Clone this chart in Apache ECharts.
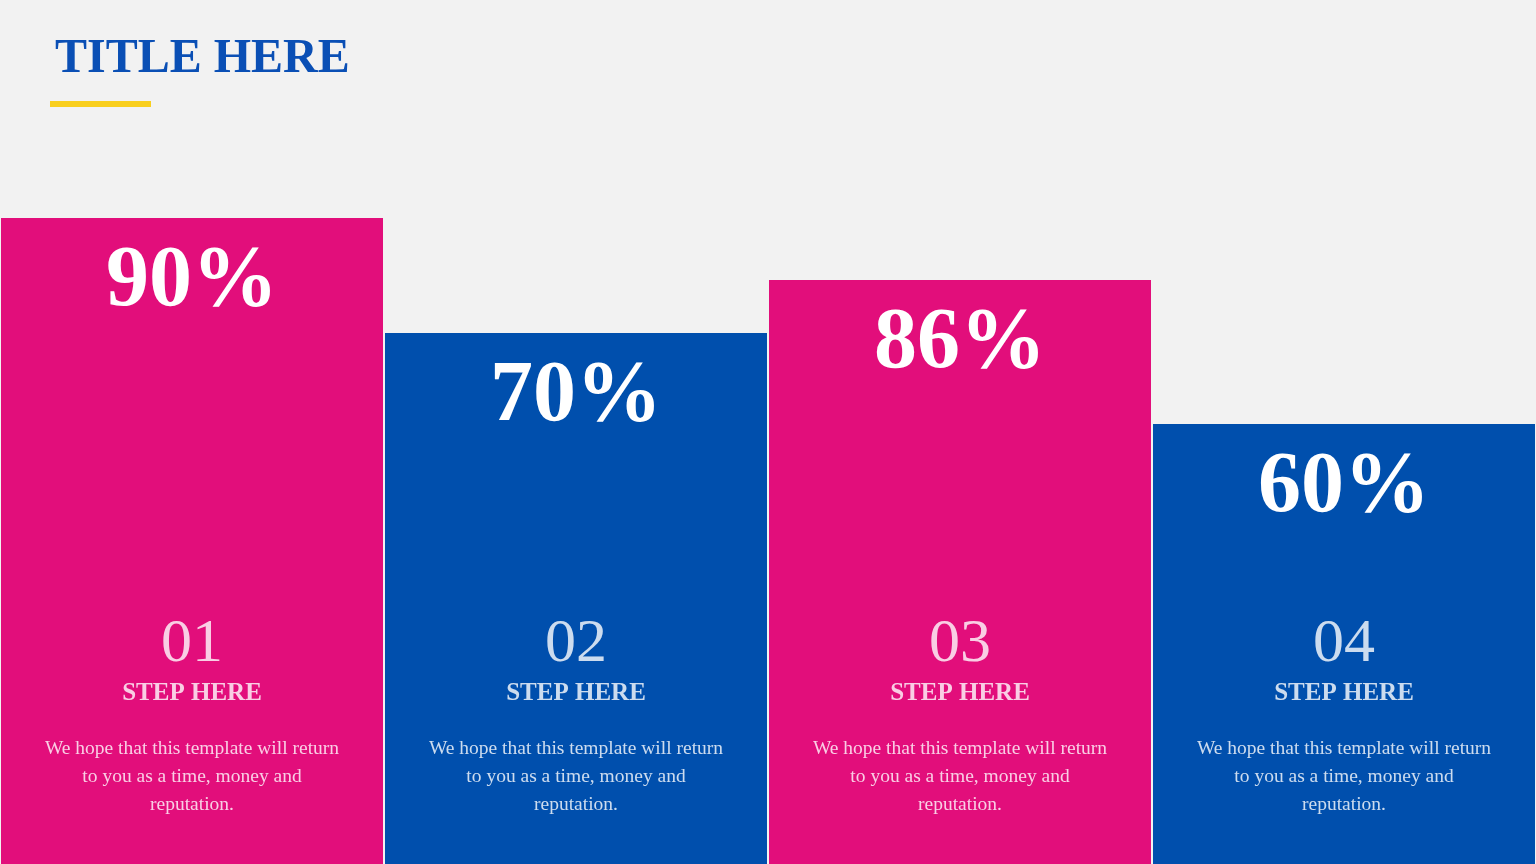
<!DOCTYPE html>
<html><head><meta charset="utf-8">
<script src="https://cdn.jsdelivr.net/npm/echarts@6/dist/echarts.min.js"></script>
<style>html,body{margin:0;padding:0;background:#f2f2f2}#c{width:1536px;height:864px}</style>
</head><body><div id="c"></div>
<script>
const categories = ['01','02','03','04'];
const percentLabels = ['90%','70%','86%','60%'];
const barHeights = [646, 531, 584, 440];
const stepTitles = ['STEP HERE','STEP HERE','STEP HERE','STEP HERE'];
const stepText = 'We hope that this template will return\nto you as a time, money and\nreputation.';
const colors = ['#e20e7b','#004fad','#e20e7b','#004fad'];
const serif = '"Liberation Serif","DejaVu Serif",serif';

const chart = echarts.init(document.getElementById('c'));
chart.setOption({
  backgroundColor:'#f2f2f2',
  animation:false,
  grid:{left:0,right:0,top:0,bottom:0},
  xAxis:{type:'category',data:categories,show:false},
  yAxis:{type:'value',min:0,max:864,show:false},
  graphic:[
    {type:'text',left:55,top:36,style:{text:'TITLE HERE',font:'bold 48px '+serif,fill:'#0a4fb5'}},
    {type:'rect',shape:{x:50,y:101,width:101,height:6},style:{fill:'#f9cf1e'}}
  ],
  series:[
    {type:'bar',barWidth:382,
     data:barHeights.map((v,i)=>({value:v,itemStyle:{color:colors[i]}})),
     label:{show:true,position:'insideTop',distance:22,formatter:p=>percentLabels[p.dataIndex],
       color:'#fff',fontFamily:serif,fontWeight:'bold',fontSize:86}},
    {type:'scatter',symbolSize:0,data:categories.map(()=>864-645),
     label:{show:true,position:'inside',formatter:p=>categories[p.dataIndex],color:'#fff',fontFamily:serif,fontSize:62}},
    {type:'scatter',symbolSize:0,data:categories.map(()=>864-694),
     label:{show:true,position:'inside',formatter:p=>stepTitles[p.dataIndex],color:'#fff',fontFamily:serif,fontWeight:'bold',fontSize:25}},
    {type:'scatter',symbolSize:0,data:categories.map(()=>864-777),
     label:{show:true,position:'inside',formatter:()=>stepText,color:'#fff',fontFamily:serif,fontSize:19.5,lineHeight:28,align:'center'}}
  ]
});
</script></body></html>
